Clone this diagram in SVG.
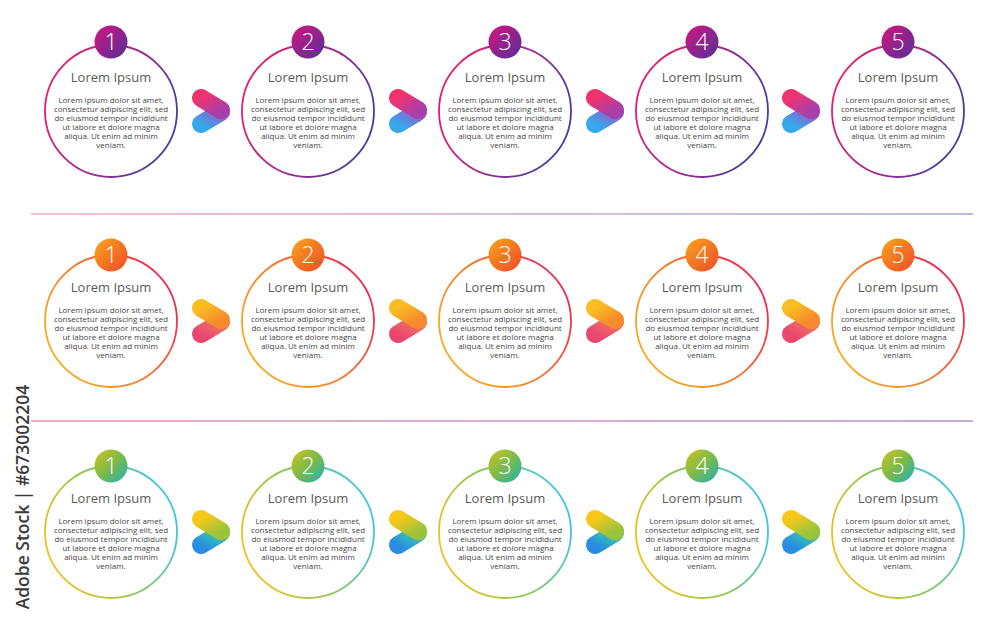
<svg xmlns="http://www.w3.org/2000/svg" width="1000" height="625" viewBox="0 0 1000 625">
<style>
.ring{fill:none;stroke-width:1.8}
.ttl{font-family:"Open Sans","Liberation Sans",sans-serif;font-size:13px;fill:#5a5a5a;text-anchor:middle}
.bd{font-family:"Open Sans","Liberation Sans",sans-serif;font-size:8px;fill:#444;text-anchor:middle}
.num{font-family:"Open Sans","Liberation Sans",sans-serif;font-size:23px;font-weight:300;fill:#fff;text-anchor:middle}
.wm{font-family:"Open Sans","Liberation Sans",sans-serif;font-size:17.5px;font-weight:600;fill:#3a3a3a;text-anchor:middle}
</style>
<defs>
<linearGradient id="r1" x1="0" y1="0.3" x2="1" y2="0.7"><stop offset="0" stop-color="#ec1b6a"/><stop offset="0.5" stop-color="#a22a8e"/><stop offset="1" stop-color="#3a40a0"/></linearGradient>
<linearGradient id="b1" x1="0" y1="0" x2="1" y2="1"><stop offset="0" stop-color="#d4157c"/><stop offset="1" stop-color="#53309c"/></linearGradient>
<linearGradient id="r2" x1="0" y1="0.8" x2="1" y2="0.2"><stop offset="0" stop-color="#f9b21c"/><stop offset="0.5" stop-color="#f57a2c"/><stop offset="1" stop-color="#ec1c58"/></linearGradient>
<linearGradient id="b2" x1="0" y1="0" x2="1" y2="1"><stop offset="0" stop-color="#f9a51b"/><stop offset="1" stop-color="#ee4a2a"/></linearGradient>
<linearGradient id="r3" x1="0" y1="0.7" x2="1" y2="0.3"><stop offset="0" stop-color="#f5c218"/><stop offset="0.5" stop-color="#8cc75a"/><stop offset="1" stop-color="#36c6ee"/></linearGradient>
<linearGradient id="b3" x1="0" y1="0" x2="1" y2="1"><stop offset="0" stop-color="#d2c41e"/><stop offset="0.5" stop-color="#7cba4a"/><stop offset="1" stop-color="#1fb0b8"/></linearGradient>
<linearGradient id="u1" x1="0" y1="0" x2="1" y2="1"><stop offset="0" stop-color="#f0336f"/><stop offset="1" stop-color="#a93fa9"/></linearGradient>
<linearGradient id="l1" x1="1" y1="0" x2="0" y2="1"><stop offset="0" stop-color="#9a58c6"/><stop offset="1" stop-color="#35a9ec"/></linearGradient>
<linearGradient id="u2" x1="0" y1="0" x2="1" y2="1"><stop offset="0" stop-color="#fbbd22"/><stop offset="1" stop-color="#f68a2c"/></linearGradient>
<linearGradient id="l2" x1="1" y1="0" x2="0" y2="1"><stop offset="0" stop-color="#f1795e"/><stop offset="1" stop-color="#e9476f"/></linearGradient>
<linearGradient id="u3" x1="0" y1="0" x2="1" y2="1"><stop offset="0" stop-color="#f7c81a"/><stop offset="1" stop-color="#9cc43a"/></linearGradient>
<linearGradient id="l3" x1="1" y1="0" x2="0" y2="1"><stop offset="0" stop-color="#6cc07a"/><stop offset="0.5" stop-color="#2fb0c8"/><stop offset="1" stop-color="#2a8ce2"/></linearGradient>
<linearGradient id="s1" x1="0" y1="0" x2="1" y2="0"><stop offset="0" stop-color="#f4a2bb"/><stop offset="1" stop-color="#9aa3d6"/></linearGradient>
<linearGradient id="s2" x1="0" y1="0" x2="1" y2="0"><stop offset="0" stop-color="#f08aa6"/><stop offset="1" stop-color="#a58ac8"/></linearGradient>
<g id="a1"><path d="M-10,13 L10,1" fill="none" stroke-width="18" stroke-linecap="round" stroke="url(#l1)"/><path d="M-10,-13 L10,-1" fill="none" stroke-width="18" stroke-linecap="round" stroke="url(#u1)"/></g>
<g id="a2"><path d="M-10,13 L10,1" fill="none" stroke-width="18" stroke-linecap="round" stroke="url(#l2)"/><path d="M-10,-13 L10,-1" fill="none" stroke-width="18" stroke-linecap="round" stroke="url(#u2)"/></g>
<g id="a3"><path d="M-10,13 L10,1" fill="none" stroke-width="18" stroke-linecap="round" stroke="url(#l3)"/><path d="M-10,-13 L10,-1" fill="none" stroke-width="18" stroke-linecap="round" stroke="url(#u3)"/></g>
<g id="txt">
<text class="ttl" y="-29">Lorem Ipsum</text>
<text class="bd" y="-8">Lorem ipsum dolor sit amet,</text>
<text class="bd" y="1">consectetur adipiscing elit, sed</text>
<text class="bd" y="10">do eiusmod tempor incididunt</text>
<text class="bd" y="19">ut labore et dolore magna</text>
<text class="bd" y="28">aliqua. Ut enim ad minim</text>
<text class="bd" y="37">veniam.</text>
</g>
</defs>
<rect width="1000" height="625" fill="#fff"/>
<rect x="31" y="213.3" width="942" height="1.4" fill="url(#s1)"/>
<rect x="31" y="420.3" width="942" height="1.4" fill="url(#s2)"/>
<text class="wm" transform="translate(29,497) rotate(-90)">Adobe Stock | #673002204</text>

<g id="connectors">
<use href="#a1" x="211" y="111"/><use href="#a1" x="408" y="111"/><use href="#a1" x="605" y="111"/><use href="#a1" x="801" y="111"/>
<use href="#a2" x="211" y="321"/><use href="#a2" x="408" y="321"/><use href="#a2" x="605" y="321"/><use href="#a2" x="801" y="321"/>
<use href="#a3" x="211" y="532"/><use href="#a3" x="408" y="532"/><use href="#a3" x="605" y="532"/><use href="#a3" x="801" y="532"/>
</g>

<g id="row1-1" transform="translate(111,111)"><circle class="ring" r="66" stroke="url(#r1)"/><circle cy="-69" r="16.5" fill="url(#b1)"/><text class="num" y="-61">1</text><use href="#txt"/></g>
<g id="row1-2" transform="translate(308,111)"><circle class="ring" r="66" stroke="url(#r1)"/><circle cy="-69" r="16.5" fill="url(#b1)"/><text class="num" y="-61">2</text><use href="#txt"/></g>
<g id="row1-3" transform="translate(505,111)"><circle class="ring" r="66" stroke="url(#r1)"/><circle cy="-69" r="16.5" fill="url(#b1)"/><text class="num" y="-61">3</text><use href="#txt"/></g>
<g id="row1-4" transform="translate(702,111)"><circle class="ring" r="66" stroke="url(#r1)"/><circle cy="-69" r="16.5" fill="url(#b1)"/><text class="num" y="-61">4</text><use href="#txt"/></g>
<g id="row1-5" transform="translate(898,111)"><circle class="ring" r="66" stroke="url(#r1)"/><circle cy="-69" r="16.5" fill="url(#b1)"/><text class="num" y="-61">5</text><use href="#txt"/></g>

<g id="row2-1" transform="translate(111,321)"><circle class="ring" r="66" stroke="url(#r2)"/><circle cy="-66" r="16.5" fill="url(#b2)"/><text class="num" y="-58">1</text><use href="#txt"/></g>
<g id="row2-2" transform="translate(308,321)"><circle class="ring" r="66" stroke="url(#r2)"/><circle cy="-66" r="16.5" fill="url(#b2)"/><text class="num" y="-58">2</text><use href="#txt"/></g>
<g id="row2-3" transform="translate(505,321)"><circle class="ring" r="66" stroke="url(#r2)"/><circle cy="-66" r="16.5" fill="url(#b2)"/><text class="num" y="-58">3</text><use href="#txt"/></g>
<g id="row2-4" transform="translate(702,321)"><circle class="ring" r="66" stroke="url(#r2)"/><circle cy="-66" r="16.5" fill="url(#b2)"/><text class="num" y="-58">4</text><use href="#txt"/></g>
<g id="row2-5" transform="translate(898,321)"><circle class="ring" r="66" stroke="url(#r2)"/><circle cy="-66" r="16.5" fill="url(#b2)"/><text class="num" y="-58">5</text><use href="#txt"/></g>

<g id="row3-1" transform="translate(111,532)"><circle class="ring" r="66" stroke="url(#r3)"/><circle cy="-66" r="16.5" fill="url(#b3)"/><text class="num" y="-58">1</text><use href="#txt"/></g>
<g id="row3-2" transform="translate(308,532)"><circle class="ring" r="66" stroke="url(#r3)"/><circle cy="-66" r="16.5" fill="url(#b3)"/><text class="num" y="-58">2</text><use href="#txt"/></g>
<g id="row3-3" transform="translate(505,532)"><circle class="ring" r="66" stroke="url(#r3)"/><circle cy="-66" r="16.5" fill="url(#b3)"/><text class="num" y="-58">3</text><use href="#txt"/></g>
<g id="row3-4" transform="translate(702,532)"><circle class="ring" r="66" stroke="url(#r3)"/><circle cy="-66" r="16.5" fill="url(#b3)"/><text class="num" y="-58">4</text><use href="#txt"/></g>
<g id="row3-5" transform="translate(898,532)"><circle class="ring" r="66" stroke="url(#r3)"/><circle cy="-66" r="16.5" fill="url(#b3)"/><text class="num" y="-58">5</text><use href="#txt"/></g>
</svg>
